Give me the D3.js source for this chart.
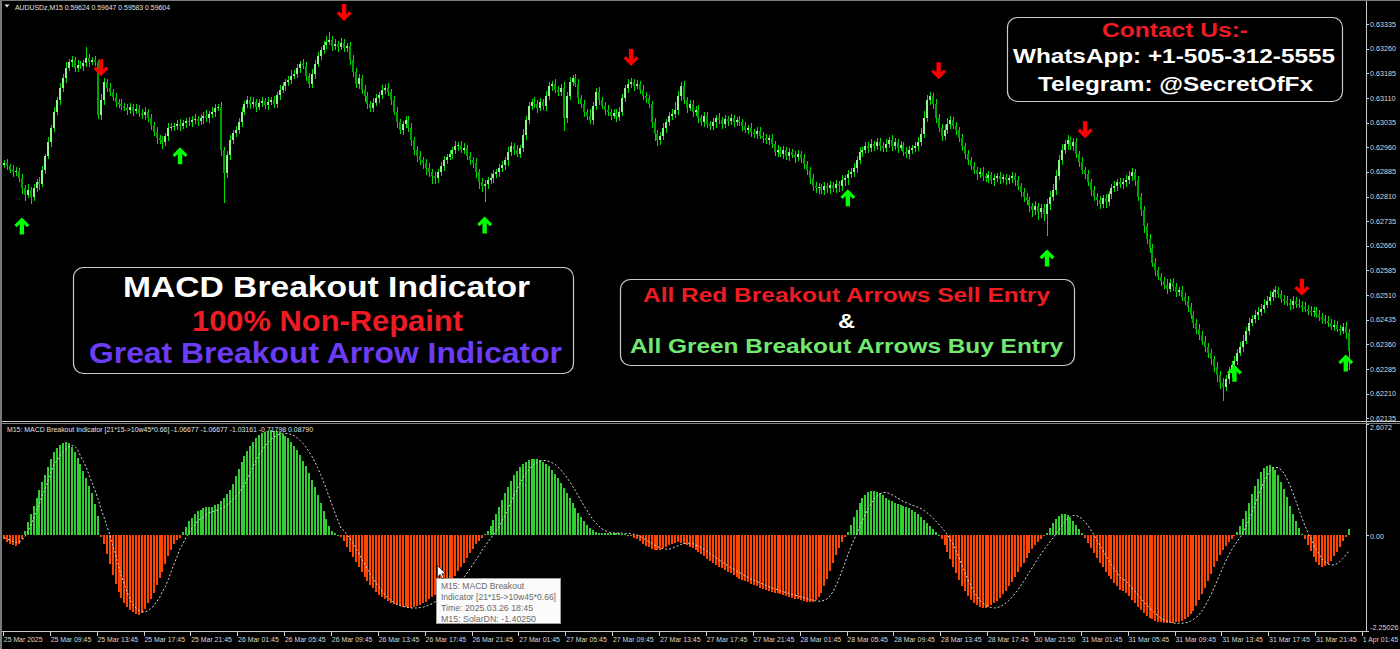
<!DOCTYPE html>
<html>
<head>
<meta charset="utf-8">
<title>AUDUSDz,M15 - MACD Breakout Indicator</title>
<style>
  body { margin: 0; background: #000; overflow: hidden; }
  svg { display: block; }
  text { font-family: "Liberation Sans", Arial, sans-serif; }
</style>
</head>
<body>
<script src="https://cdn.jsdelivr.net/npm/d3@7/dist/d3.min.js"></script>
<script>
// ---------- data ----------
// closes in points above 0.62000 (e.g. 905 = 0.62905), one per M15 bar
var closePts = [
  911,902,890,884,887,865,835,816,829,810, 835,853,847,890,932,975,1018,1067,1103,1140,
  1170,1201,1219,1225,1201,1210,1207,1216,1231,1219, 1225,1219,1057,1103,1158,1140,1128,1112,1097,1091,
  1085,1079,1073,1082,1070,1076,1064,1058,1067,1048, 1027,1006,987,981,975,994,1018,1021,1024,1030,
  1024,1033,1039,1036,1042,1045,1039,1048,1055,1048, 1061,1067,1079,1082,951,881,935,981,1003,1012,
  1036,1067,1091,1103,1091,1097,1082,1094,1100,1088, 1097,1103,1091,1119,1134,1146,1158,1164,1177,1183,
  1201,1213,1207,1177,1152,1183,1213,1237,1256,1271, 1280,1286,1268,1274,1265,1277,1262,1268,1225,1189,
  1152,1170,1134,1115,1091,1079,1094,1109,1119,1134, 1140,1128,1103,1067,1036,1012,1030,1042,1018,981,
  951,932,920,911,896,884,871,865,884,902, 920,930,939,951,963,966,951,957,932,920,911,
  884,853,841,847,859,865,877,884,896,905, 920,945,963,951,939,957,996,1042,1085,1097,
  1091,1079,1097,1085,1115,1146,1152,1134,1128,1140, 1048,1115,1158,1170,1152,1109,1091,1067,1055,1042,
  1085,1128,1103,1085,1073,1067,1055,1064,1052,1067, 1109,1140,1152,1158,1146,1152,1134,1115,1109,1091,
  1036,1000,981,994,1018,1036,1055,1061,1073,1115, 1146,1103,1079,1091,1067,1073,1048,1036,1055,1030,
  1024,1036,1048,1042,1030,1045,1039,1048,1036,1042, 1036,1024,1012,1018,1006,1000,1009,994,987,981,
  987,969,945,951,939,951,932,945,936,929, 939,926,908,890,865,841,835,838,829,841,
  835,844,835,847,841,859,865,877,884,896, 920,945,951,963,957,969,963,975,963,957,
  969,981,963,975,957,966,945,939,951,957, 963,975,1000,1048,1103,1115,1091,1048,1018,994,
  1012,1030,1042,1024,1012,987,963,939,920,902, 890,877,884,871,865,875,859,865,871,862,
  868,859,865,871,859,841,823,810,798,780, 768,780,762,774,756,786,810,829,871,920,
  951,969,981,963,975,939,914,890,877,853, 829,810,798,786,804,792,817,835,841,853,
  847,853,859,871,884,859,810,768,719,682,652, 609,585,566,554,542,530,548,536,518,524,
  505,493,475,450,426,408,390,371,353,335, 316,292,268,243,231,255,274,298,310,335,
  353,371,402,426,438,450,457,469,481,493, 505,518,524,512,499,493,487,481,493,484,
  481,475,469,463,457,463,450,444,438,432, 426,414,420,408,402,414,396,341
];
var firstOpenPts = 905;
// wick lengths (points) above and below each candle body
var wickHiPts = [
  10,14,8,16,12,9,15,11,18,10, 13,9,17,12,8,15,11,14,10,16, 12,18,9,14,11,16,13,10,35,12, 9,14,6,18,12,10,15,9,13,11,
  16,10,14,12,9,17,11,13,15,10, 12,9,15,11,14,10,16,12,9,13, 15,11,9,14,12,16,10,13,11,17, 10,14,12,9,15,11,13,16,10,14,
  12,16,9,13,11,15,10,14,12,9, 16,11,13,10,15,12,9,14,17,11, 13,10,15,12,9,16,11,14,10,13, 18,25,12,15,10,14,11,9,13,16,
  11,14,10,16,12,9,15,13,10,14, 12,15,9,13,16,11,10,14,12,15, 10,13,16,9,12,15,11,14,10,12, 14,10,13,11,16,9,12,15,10,13,
  11,15,10,14,12,9,16,13,11,14, 12,10,15,13,9,16,11,18,12,14, 10,15,12,14,11,16,13,9,15,12, 11,18,13,15,10,12,16,11,14,10,
  20,13,11,15,10,12,14,9,13,11, 15,12,10,16,13,9,14,11,15,12, 10,9,14,12,11,15,10,13,14,25, 16,11,15,10,14,12,11,15,9,13,
  12,10,14,11,15,9,13,11,14,10, 11,14,9,13,11,15,10,14,12,13, 14,10,12,11,15,9,13,11,14,10, 12,14,10,13,11,9,14,12,13,10,
  13,11,14,10,12,11,15,10,14,12, 15,13,16,11,14,12,15,11,14,12, 14,16,11,15,12,10,14,11,15,13, 11,14,15,18,22,16,14,11,15,12,
  13,16,18,12,11,14,10,12,11,14, 11,14,10,12,15,11,14,10,13,11, 14,10,12,11,15,10,12,11,14,10, 12,11,15,10,14,12,15,16,18,20,
  16,18,14,15,11,14,12,10,15,11, 14,10,12,11,15,10,14,11,12,15, 11,12,14,16,18,12,11,14,10,12, 11,14,12,15,10,12,11,16,10,14,
  12,10,15,11,14,10,12,11,15,10, 14,11,12,10,15,11,14,12,16,11, 15,12,14,16,11,15,12,14,16,15, 18,14,16,12,15,11,14,12,15,11,
  14,12,15,11,14,10,15,12,11,14, 12,11,15,10,14,11,12,10,13,11
];
var wickLoPts = [
  9,12,8,14,11,10,16,20,11,24, 14,11,16,9,12,8,14,11,10,13, 11,15,9,14,12,11,8,15,11,14, 10,13,12,14,16,11,13,10,14,11,
  13,10,14,11,16,9,13,11,14,10, 14,11,16,12,20,11,14,10,13,11, 16,10,13,11,14,10,13,11,16,10, 13,11,14,10,18,92,16,14,11,13,
  11,14,10,13,16,11,14,10,13,11, 14,10,13,11,16,10,14,11,13,10, 11,14,10,16,13,11,14,10,13,11, 13,10,16,11,14,10,13,11,16,14,
  11,16,13,17,14,11,13,10,14,11, 13,11,14,10,16,11,14,13,11,16, 14,17,13,16,20,14,22,17,13,11, 13,12,10,14,11,16,10,13,11,14,
  13,17,20,16,49,14,11,13,10,14, 11,13,16,11,14,10,13,11,14,10, 13,11,14,10,13,16,11,14,10,13, 11,40,14,11,13,10,16,11,14,13,
  10,13,11,14,10,16,11,13,10,14, 11,13,10,14,11,16,10,13,11,14, 13,16,20,17,13,11,14,10,13,11, 14,13,11,16,10,14,11,13,10,14,
  11,13,11,16,10,14,11,13,10,14, 11,11,14,10,13,16,11,14,10,13, 11,14,11,13,16,10,14,11,13,10, 16,11,14,13,16,17,14,13,16,11,
  14,13,16,11,14,17,13,16,20,11, 14,13,11,14,10,16,11,13,10,14, 11,13,10,14,11,16,10,13,11,14, 13,11,14,10,13,11,16,14,13,11,
  14,13,11,16,10,14,11,13,16,14, 11,13,16,11,14,10,13,11,16,10, 13,11,14,10,13,16,11,14,17,13, 16,20,14,25,17,20,65,16,14,13,
  11,14,11,16,10,13,11,14,10,13, 11,16,14,17,13,11,16,10,14,11, 13,11,13,14,10,13,16,14,17,20, 16,14,13,16,11,17,14,16,11,14,
  13,11,14,13,16,14,17,16,18,14, 17,16,20,17,24,20,43,14,16,13, 14,13,11,16,10,14,11,13,16,10, 14,11,14,13,16,10,13,14,11,16,
  13,14,11,16,10,13,11,14,10,13, 16,11,14,10,13,11,14,11,20,60
];
// MACD Breakout histogram (green above zero, orange-red below)
var histValues = [
  -0.10,-0.16,-0.21,-0.24,-0.26,-0.22,-0.08,0.10,0.30,0.50, 0.68,0.88,1.05,1.25,1.42,1.60,1.78,1.94,2.04,2.12,
  2.17,2.19,2.15,2.06,1.95,1.80,1.66,1.50,1.33,1.15, 0.98,0.74,0.46,-0.04,-0.22,-0.45,-0.68,-0.93,-1.15,-1.33,
  -1.47,-1.59,-1.68,-1.75,-1.81,-1.86,-1.87,-1.82,-1.73,-1.60, -1.50,-1.35,-1.18,-1.01,-0.86,-0.68,-0.49,-0.34,-0.21,-0.12,
  -0.06,0.07,0.20,0.32,0.41,0.49,0.56,0.59,0.63,0.65, 0.66,0.67,0.70,0.74,0.79,0.86,0.96,1.07,1.20,1.38,
  1.55,1.72,1.86,1.98,2.09,2.19,2.27,2.34,2.39,2.43, 2.45,2.46,2.45,2.44,2.42,2.38,2.33,2.27,2.19,2.10,
  2.00,1.88,1.75,1.61,1.46,1.30,1.12,0.94,0.75,0.56, 0.38,0.22,0.10,0.04,0.01,-0.05,-0.15,-0.28,-0.40,-0.52,
  -0.64,-0.76,-0.87,-0.98,-1.08,-1.17,-1.25,-1.33,-1.40,-1.46, -1.51,-1.55,-1.59,-1.62,-1.64,-1.66,-1.68,-1.69,-1.70,-1.70,
  -1.69,-1.67,-1.64,-1.60,-1.56,-1.51,-1.45,-1.40,-1.34,-1.28, -1.21,-1.17,-1.13,-1.04,-0.95,-0.85,-0.75,-0.65,-0.54,-0.43,-0.32,
  -0.22,-0.13,-0.06,0.03,0.10,0.22,0.36,0.50,0.66,0.82, 0.98,1.13,1.27,1.40,1.51,1.60,1.67,1.72,1.76,1.78,
  1.79,1.78,1.76,1.72,1.67,1.61,1.53,1.44,1.34,1.23, 1.11,0.99,0.87,0.75,0.63,0.52,0.42,0.32,0.23,0.16,
  0.11,0.08,0.06,0.05,0.05,0.04,0.04,0.05,0.05,0.04, 0.03,0.02,0.01,-0.02,-0.06,-0.10,-0.15,-0.20,-0.25,-0.29,
  -0.32,-0.34,-0.35,-0.34,-0.31,-0.27,-0.23,-0.20,-0.18,-0.17, -0.18,-0.20,-0.23,-0.27,-0.31,-0.35,-0.40,-0.45,-0.50,-0.55,
  -0.60,-0.65,-0.70,-0.74,-0.78,-0.82,-0.86,-0.90,-0.94,-0.98, -1.02,-1.05,-1.08,-1.11,-1.14,-1.17,-1.20,-1.23,-1.26,-1.28,
  -1.31,-1.33,-1.35,-1.37,-1.39,-1.41,-1.43,-1.45,-1.47,-1.49, -1.51,-1.53,-1.55,-1.56,-1.57,-1.56,-1.52,-1.45,-1.35,-1.20,
  -1.02,-0.84,-0.65,-0.47,-0.31,-0.17,-0.05,0.08,0.24,0.42, 0.60,0.75,0.87,0.95,1.00,1.03,1.04,1.02,0.98,0.93,
  0.88,0.83,0.79,0.76,0.73,0.71,0.69,0.67,0.64,0.60, 0.55,0.49,0.42,0.35,0.28,0.21,0.14,0.07,0.01,-0.10,
  -0.24,-0.40,-0.57,-0.74,-0.90,-1.05,-1.19,-1.32,-1.43,-1.52, -1.59,-1.65,-1.69,-1.71,-1.71,-1.69,-1.65,-1.60,-1.54,-1.47,
  -1.39,-1.30,-1.20,-1.09,-0.98,-0.87,-0.76,-0.65,-0.54,-0.43, -0.33,-0.24,-0.16,-0.09,-0.03,0.06,0.17,0.28,0.38,0.46,
  0.50,0.50,0.47,0.41,0.33,0.24,0.14,0.05,-0.06,-0.18, -0.30,-0.42,-0.54,-0.65,-0.76,-0.86,-0.95,-1.04,-1.12,-1.20,
  -1.28,-1.32,-1.36,-1.44,-1.52,-1.60,-1.68,-1.76,-1.83,-1.89,-1.94, -1.98,-2.01,-2.03,-2.05,-2.06,-2.07,-2.07,-2.06,-2.05,-2.04,
  -2.02,-1.98,-1.93,-1.86,-1.77,-1.66,-1.53,-1.39,-1.24,-1.08, -0.92,-0.76,-0.61,-0.47,-0.35,-0.25,-0.16,-0.08,-0.02,0.08,
  0.22,0.38,0.56,0.76,0.96,1.15,1.32,1.47,1.57,1.63, 1.64,1.60,1.52,1.40,1.25,1.08,0.89,0.69,0.50,0.32,
  0.16,0.03,-0.10,-0.24,-0.38,-0.51,-0.62,-0.70,-0.74,-0.73, -0.68,-0.60,-0.50,-0.39,-0.27,-0.15,-0.04,0.15
];
// dotted signal line
var signalValues = [
  -0.06,-0.09,-0.12,-0.15,-0.17,-0.17,-0.12,-0.04,0.07,0.22, 0.40,0.57,0.74,0.94,1.09,1.28,1.49,1.66,1.75,1.86,
  1.95,2.01,2.07,2.10,2.09,2.01,1.86,1.73,1.59,1.40, 1.22,1.05,0.85,0.62,0.43,0.22,0.02,-0.24,-0.45,-0.73,
  -0.97,-1.15,-1.35,-1.52,-1.64,-1.71,-1.77,-1.80,-1.80,-1.78, -1.72,-1.66,-1.56,-1.47,-1.32,-1.21,-1.04,-0.85,-0.67,-0.50,
  -0.32,-0.20,-0.06,0.04,0.16,0.24,0.33,0.38,0.43,0.48, 0.52,0.55,0.57,0.59,0.62,0.65,0.70,0.76,0.83,0.90,
  0.98,1.08,1.18,1.32,1.47,1.62,1.76,1.88,1.99,2.09, 2.17,2.24,2.30,2.34,2.37,2.39,2.39,2.38,2.36,2.33,
  2.28,2.22,2.15,2.06,1.96,1.85,1.72,1.58,1.42,1.25, 1.07,0.88,0.69,0.50,0.32,0.16,0.10,0.01,-0.08,-0.18,
  -0.30,-0.42,-0.55,-0.68,-0.80,-0.92,-1.03,-1.13,-1.23,-1.32, -1.40,-1.47,-1.53,-1.58,-1.62,-1.65,-1.67,-1.69,-1.70,-1.71,
  -1.71,-1.71,-1.70,-1.69,-1.67,-1.64,-1.61,-1.57,-1.52,-1.47, -1.41,-1.38,-1.35,-1.29,-1.22,-1.15,-1.07,-0.98,-0.89,-0.79,-0.69,
  -0.59,-0.48,-0.37,-0.27,-0.17,-0.08,0.01,0.10,0.21,0.34, 0.47,0.62,0.77,0.92,1.07,1.20,1.33,1.44,1.53,1.61,
  1.67,1.71,1.74,1.75,1.75,1.73,1.70,1.66,1.60,1.53, 1.45,1.36,1.26,1.15,1.04,0.92,0.80,0.68,0.57,0.46,
  0.36,0.28,0.21,0.15,0.11,0.08,0.06,0.05,0.05,0.05, 0.05,0.04,0.04,0.03,0.02,0.00,-0.03,-0.07,-0.11,-0.15,
  -0.19,-0.23,-0.27,-0.30,-0.32,-0.33,-0.33,-0.31,-0.28,-0.25, -0.22,-0.20,-0.19,-0.19,-0.20,-0.23,-0.26,-0.30,-0.34,-0.38,
  -0.43,-0.48,-0.53,-0.58,-0.63,-0.67,-0.72,-0.76,-0.80,-0.84, -0.88,-0.92,-0.96,-0.99,-1.03,-1.06,-1.09,-1.12,-1.15,-1.18,
  -1.21,-1.23,-1.26,-1.28,-1.31,-1.33,-1.35,-1.37,-1.39,-1.41, -1.43,-1.45,-1.47,-1.49,-1.51,-1.53,-1.54,-1.55,-1.55,-1.53,
  -1.49,-1.42,-1.32,-1.18,-1.02,-0.84,-0.65,-0.46,-0.28,-0.12, 0.03,0.18,0.34,0.49,0.63,0.75,0.85,0.92,0.97,1.00,
  1.00,0.98,0.95,0.91,0.87,0.83,0.79,0.76,0.73,0.70, 0.68,0.65,0.62,0.58,0.53,0.47,0.40,0.33,0.26,0.18,
  0.10,0.01,-0.10,-0.23,-0.38,-0.54,-0.71,-0.88,-1.04,-1.19, -1.32,-1.43,-1.52,-1.59,-1.64,-1.68,-1.70,-1.71,-1.70,-1.68,
  -1.64,-1.59,-1.53,-1.46,-1.38,-1.29,-1.19,-1.09,-0.98,-0.87, -0.76,-0.65,-0.54,-0.44,-0.34,-0.25,-0.16,-0.07,0.02,0.12,
  0.22,0.31,0.38,0.43,0.46,0.46,0.43,0.38,0.31,0.22, 0.12,0.01,-0.11,-0.23,-0.35,-0.47,-0.58,-0.69,-0.80,-0.90,
  -0.99,-1.03,-1.08,-1.16,-1.24,-1.32,-1.40,-1.48,-1.56,-1.64,-1.71, -1.78,-1.84,-1.90,-1.95,-1.99,-2.02,-2.04,-2.06,-2.07,-2.07,
  -2.07,-2.06,-2.05,-2.02,-1.98,-1.93,-1.86,-1.77,-1.66,-1.53, -1.39,-1.24,-1.08,-0.92,-0.76,-0.61,-0.47,-0.35,-0.24,-0.14,
  -0.04,0.08,0.21,0.36,0.53,0.71,0.90,1.08,1.24,1.38, 1.49,1.56,1.59,1.58,1.53,1.44,1.31,1.16,0.98,0.79,
  0.60,0.41,0.23,0.07,-0.08,-0.22,-0.35,-0.46,-0.56,-0.63, -0.68,-0.70,-0.70,-0.67,-0.62,-0.55,-0.47,-0.38
];
// breakout arrows: [bar index, price points at arrow tip]
var buyArrows  = [[6,746],[60,960],[164,749],[288,832],[356,649],[420,298],[458,329]];
var sellArrows = [[33,1176],[116,1344],[214,1207],[319,1167],[369,987],[443,508]];

var priceTicks = [0.63335,0.63260,0.63185,0.63110,0.63035,0.62960,0.62885,0.62810,0.62735,
                  0.62660,0.62585,0.62510,0.62435,0.62360,0.62285,0.62210,0.62135];
var subTicks = [2.6072, 0, -2.25026];
var subTickLabels = ["2.6072", "0.00", "-2.25026"];
var timeLabels = ["25 Mar 2025","25 Mar 09:45","25 Mar 13:45","25 Mar 17:45","25 Mar 21:45",
  "26 Mar 01:45","26 Mar 05:45","26 Mar 09:45","26 Mar 13:45","26 Mar 17:45","26 Mar 21:45",
  "27 Mar 01:45","27 Mar 05:45","27 Mar 09:45","27 Mar 13:45","27 Mar 17:45","27 Mar 21:45",
  "28 Mar 01:45","28 Mar 05:45","28 Mar 09:45","28 Mar 13:45","28 Mar 17:45","30 Mar 21:50",
  "31 Mar 01:45","31 Mar 05:45","31 Mar 09:45","31 Mar 13:45","31 Mar 17:45","31 Mar 21:45","1 Apr 01:45"];
var barsPerLabel = 16;

// ---------- layout ----------
var W = 1400, H = 649;
var plotRight = 1366;
var mainTop = 2, mainBottom = 421;
var subTop = 424, subBottom = 631;

var svg = d3.select("body").append("svg")
  .attr("width", W).attr("height", H)
  .style("background", "#000");

// bar index -> x (bar centre)
var xScale = d3.scaleLinear().domain([0, 459]).range([4.3, 1348.7]);
// price -> y for the main window
var yMain = d3.scaleLinear().domain([0.62135, 0.63335]).range([418.3, 24]);
// indicator value -> y for the sub window
var ySub = d3.scaleLinear().domain([-2.25026, 2.6072]).range([subBottom, subTop]);

function pts(p) { return 0.62 + p / 100000; }

// build candles from closes (open = previous close)
var candles = closePts.map(function(c, i) {
  var o = i === 0 ? firstOpenPts : closePts[i - 1];
  return {
    i: i, o: o, c: c,
    h: Math.max(o, c) + (wickHiPts[i] || 0),
    l: Math.min(o, c) - (wickLoPts[i] || 0)
  };
});

// window frame
svg.append("rect").attr("x", 0).attr("y", 0).attr("width", 2).attr("height", H).attr("fill", "#7a7a7a");
svg.append("line").attr("x1", 2).attr("x2", W).attr("y1", 0.5).attr("y2", 0.5).attr("stroke", "#7a7a7a");

// ---------- main window ----------
var mainG = svg.append("g");
mainG.append("clipPath").attr("id", "clipMain")
  .append("rect").attr("x", 3).attr("y", mainTop).attr("width", plotRight - 3).attr("height", mainBottom - mainTop);
var candleG = mainG.append("g").attr("clip-path", "url(#clipMain)").attr("shape-rendering", "crispEdges");

candleG.selectAll(".wick").data(candles).enter().append("rect")
  .attr("class", "wick")
  .attr("x", function(d) { return Math.round(xScale(d.i)); })
  .attr("width", 1)
  .attr("y", function(d) { return yMain(pts(d.h)); })
  .attr("height", function(d) { return Math.max(1, yMain(pts(d.l)) - yMain(pts(d.h))); })
  .attr("fill", "#00e000");

candleG.selectAll(".body").data(candles).enter().append("rect")
  .attr("class", "body")
  .attr("x", function(d) { return Math.round(xScale(d.i)) - 1; })
  .attr("width", 2)
  .attr("y", function(d) { return yMain(pts(Math.max(d.o, d.c))); })
  .attr("height", function(d) { return Math.max(1, Math.abs(yMain(pts(d.o)) - yMain(pts(d.c)))); })
  .attr("fill", function(d) { return d.c >= d.o ? "#8cf58c" : "#00a400"; });

// arrows
var upArrow = [[0,0],[7.5,7.5],[5.2,9.8],[2.2,6.8],[2.2,17],[-2.2,17],[-2.2,6.8],[-5.2,9.8],[-7.5,7.5]];
function arrowPath(flip) {
  return "M" + upArrow.map(function(p) { return p[0] + "," + (flip ? -p[1] : p[1]); }).join("L") + "Z";
}
mainG.selectAll(".buy").data(buyArrows).enter().append("path")
  .attr("class", "buy")
  .attr("d", arrowPath(false))
  .attr("transform", function(d) { return "translate(" + xScale(d[0]) + "," + yMain(pts(d[1])) + ")"; })
  .attr("fill", "#00ff00");
mainG.selectAll(".sell").data(sellArrows).enter().append("path")
  .attr("class", "sell")
  .attr("d", arrowPath(true))
  .attr("transform", function(d) { return "translate(" + xScale(d[0]) + "," + yMain(pts(d[1])) + ")"; })
  .attr("fill", "#ff0000");

// price axis
var priceAxis = svg.append("g");
priceAxis.selectAll("line").data(priceTicks).enter().append("line")
  .attr("x1", plotRight).attr("x2", plotRight + 3)
  .attr("y1", function(d) { return Math.round(yMain(d)) + 0.5; })
  .attr("y2", function(d) { return Math.round(yMain(d)) + 0.5; })
  .attr("stroke", "#cfcfcf");
priceAxis.selectAll("text").data(priceTicks).enter().append("text")
  .attr("x", plotRight + 4)
  .attr("y", function(d) { return yMain(d) + 2.6; })
  .attr("fill", "#d8d8d8").attr("font-size", "7.2px")
  .text(function(d) { return d.toFixed(5); });

// header
svg.append("path").attr("d", "M4.5,4.5L9.5,4.5L7,7.5Z").attr("fill", "#e0e0e0");
svg.append("text").attr("x", 15).attr("y", 9.6)
  .attr("fill", "#e0e0e0").attr("font-size", "7.5px")
  .attr("textLength", 155).attr("lengthAdjust", "spacingAndGlyphs")
  .text("AUDUSDz,M15  0.59624 0.59647 0.59583 0.59604");

// ---------- indicator window ----------
var subG = svg.append("g");
subG.append("g").attr("shape-rendering", "crispEdges")
  .selectAll("rect").data(histValues).enter().append("rect")
  .attr("x", function(d, i) { return Math.round(xScale(i)) - 1; })
  .attr("width", 2)
  .attr("y", function(d) { return Math.min(ySub(d), ySub(0)); })
  .attr("height", function(d) { return Math.max(1, Math.abs(ySub(d) - ySub(0))); })
  .attr("fill", function(d) { return d >= 0 ? "#32cd32" : "#ff4500"; });

var signalLine = d3.line()
  .x(function(d, i) { return xScale(i); })
  .y(function(d) { return ySub(d); });
subG.append("path").datum(signalValues)
  .attr("d", signalLine)
  .attr("fill", "none")
  .attr("stroke", "#d8d8d8")
  .attr("stroke-width", 1)
  .attr("stroke-dasharray", "2,2");

subG.append("text").attr("x", 7).attr("y", 431.5)
  .attr("fill", "#e0e0e0").attr("font-size", "7.2px")
  .attr("textLength", 306).attr("lengthAdjust", "spacingAndGlyphs")
  .text("M15: MACD Breakout Indicator [21*15->10w45*0.66] -1.06677 -1.06677 -1.03161 -0.71798 0.08790");

var subAxis = svg.append("g");
var subLabelY = [430, 538.5, 630];
subAxis.selectAll("line").data(subTicks).enter().append("line")
  .attr("x1", plotRight).attr("x2", plotRight + 3)
  .attr("y1", function(d) { return Math.round(ySub(d)) + 0.5; })
  .attr("y2", function(d) { return Math.round(ySub(d)) + 0.5; })
  .attr("stroke", "#cfcfcf");
subAxis.selectAll("text").data(subTickLabels).enter().append("text")
  .attr("x", plotRight + 4)
  .attr("y", function(d, i) { return subLabelY[i]; })
  .attr("fill", "#d8d8d8").attr("font-size", "7.2px")
  .text(function(d) { return d; });

// frame lines of both windows
svg.append("line").attr("x1", plotRight + 0.5).attr("x2", plotRight + 0.5).attr("y1", 1).attr("y2", subBottom)
  .attr("stroke", "#c8c8c8");
svg.append("line").attr("x1", 2).attr("x2", W).attr("y1", mainBottom + 0.5).attr("y2", mainBottom + 0.5)
  .attr("stroke", "#c8c8c8");
svg.append("line").attr("x1", 2).attr("x2", W).attr("y1", subTop - 0.5).attr("y2", subTop - 0.5)
  .attr("stroke", "#808080");
svg.append("line").attr("x1", 2).attr("x2", plotRight + 1).attr("y1", subBottom + 0.5).attr("y2", subBottom + 0.5)
  .attr("stroke", "#c8c8c8");

// time axis
var timeAxis = svg.append("g");
timeAxis.selectAll("line").data(timeLabels).enter().append("line")
  .attr("x1", function(d, k) { return Math.round(xScale(k * barsPerLabel) - 1.3) + 0.5; })
  .attr("x2", function(d, k) { return Math.round(xScale(k * barsPerLabel) - 1.3) + 0.5; })
  .attr("y1", subBottom + 1).attr("y2", subBottom + 5)
  .attr("stroke", "#cfcfcf");
timeAxis.selectAll("text").data(timeLabels).enter().append("text")
  .attr("x", function(d, k) { return xScale(k * barsPerLabel) - 0.5; })
  .attr("y", 642)
  .attr("fill", "#d8d8d8").attr("font-size", "6.9px")
  .text(function(d) { return d; });

// ---------- text panels ----------
function panel(x, y, w, h) {
  svg.append("rect").attr("x", x).attr("y", y).attr("width", w).attr("height", h)
    .attr("rx", 10).attr("fill", "none").attr("stroke", "#c8c8c8").attr("stroke-width", 1.2);
}
function label(x, y, size, color, len, str) {
  var t = svg.append("text").attr("x", x).attr("y", y)
    .attr("fill", color).attr("font-size", size + "px").attr("font-weight", "bold")
    .text(str);
  if (len) t.attr("textLength", len).attr("lengthAdjust", "spacingAndGlyphs");
}
panel(73.5, 267.5, 500, 106);
label(123, 297, 30, "#ffffff", 407, "MACD Breakout Indicator");
label(192, 331, 30, "#ed1c24", 271, "100% Non-Repaint");
label(89, 363, 30, "#6b3cf4", 473, "Great Breakout Arrow Indicator");

panel(620.5, 279.5, 454, 86);
label(643, 302, 21, "#ed1c24", 407, "All Red Breakout Arrows Sell Entry");
label(838, 328, 21, "#ffffff", 17, "&");
label(630, 353, 21, "#72e872", 433, "All Green Breakout Arrows Buy Entry");

panel(1007.5, 17.5, 335, 84);
label(1102, 36.5, 20, "#ed1c24", 146, "Contact Us:-");
label(1013, 63, 20, "#ffffff", 322, "WhatsApp: +1-505-312-5555");
label(1038, 90.5, 20, "#ffffff", 275, "Telegram: @SecretOfFx");

// ---------- tooltip and mouse pointer ----------
var tip = svg.append("g");
tip.append("rect").attr("x", 436.5).attr("y", 578.5).attr("width", 124).attr("height", 45)
  .attr("fill", "#fbfbfb").attr("stroke", "#a0a0a0");
var tipLines = ["M15: MACD Breakout", "Indicator [21*15->10w45*0.66]", "Time: 2025.03.26 18:45", "M15: SolarDN: -1.40250"];
var tipLens = [83, 115, 92, 95];
tip.selectAll("text").data(tipLines).enter().append("text")
  .attr("x", 441).attr("y", function(d, i) { return 588.5 + i * 11; })
  .attr("fill", "#6a6a6a").attr("font-size", "9px")
  .attr("font-family", "'Open Sans', 'Noto Sans', sans-serif")
  .attr("textLength", function(d, i) { return tipLens[i]; })
  .attr("lengthAdjust", "spacingAndGlyphs")
  .text(function(d) { return d; });
svg.append("path")
  .attr("d", "M437.5,565.5L437.5,577L440.2,574.4L442.2,578.6L444,577.8L442,573.7L445.7,573.7Z")
  .attr("fill", "#ffffff").attr("stroke", "#000").attr("stroke-width", 0.6);
</script>
</body>
</html>
